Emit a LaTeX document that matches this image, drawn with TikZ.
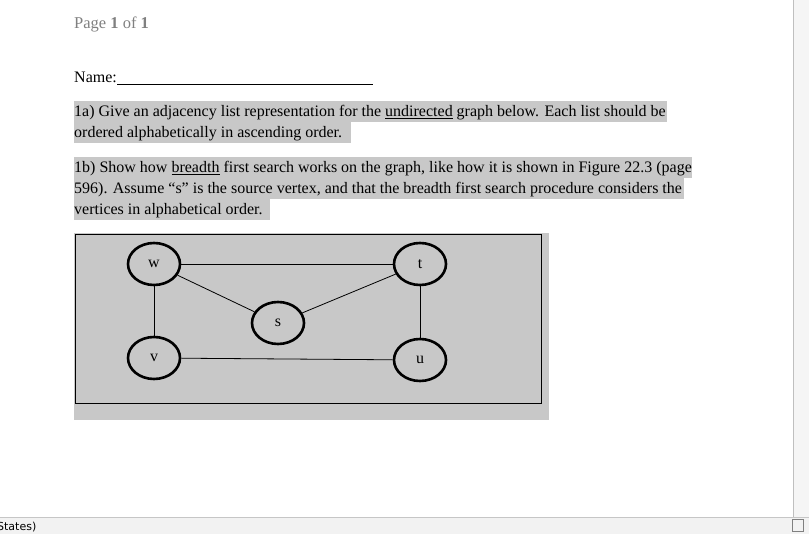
\documentclass[tikz,border=0pt]{standalone}
\usepackage{fontspec}
\usetikzlibrary{shapes.geometric}
\setmainfont{Liberation Serif}
\newfontfamily\uifont{DejaVu Sans}
\begin{document}
\begin{tikzpicture}[x=1pt,y=-1pt,
  txt/.style={anchor=base west,inner sep=0pt,font=\fontsize{16}{21}\selectfont},
  vtx/.style={ellipse,draw,line width=2.6pt,minimum width=52pt,minimum height=42pt,inner sep=0pt,font=\fontsize{16}{18}\selectfont},
  edge/.style={line width=0.8pt}]
\useasboundingbox (0,0) rectangle (809,534);
\fill[white] (0,0) rectangle (809,534);
% highlights
\definecolor{hl}{RGB}{200,200,200}
\fill[hl] (74,101) rectangle (667,122);
\fill[hl] (74,122) rectangle (351,143);
\fill[hl] (74,157) rectangle (692,178);
\fill[hl] (74,178) rectangle (684,199);
\fill[hl] (74,199) rectangle (270,220);
\fill[hl] (74,233) rectangle (549,420);
\draw[line width=0.8pt] (75,234) rectangle (541,403);
% texts
\node[txt,text=gray,font=\fontsize{16.5}{21}\selectfont] (pg) at (74,29) {Page \textbf{1} of \textbf{1}};
\node[txt] (nm) at (74,83) {Name:};
\draw[line width=0.8pt] (117,84) -- (373,84);
\node[txt] (l1) at (74,117) {1a) Give an adjacency list representation for the \underline{undirected} graph below. Each list should be};
\node[txt] (l2) at (74,138) {ordered alphabetically in ascending order.};
\node[txt] (l3) at (74,173) {1b) Show how \underline{breadth} first search works on the graph, like how it is shown in Figure 22.3 (page};
\node[txt] (l4) at (74,194) {596). Assume ``s'' is the source vertex, and that the breadth first search procedure considers the};
\node[txt] (l5) at (74,215) {vertices in alphabetical order.};
% graph
\node[vtx] (w) at (154,264) {w};
\node[vtx] (t) at (420,264) {t};
\node[vtx] (s) at (278,323) {s};
\node[vtx] (v) at (154,358) {v};
\node[vtx] (u) at (420,360) {u};
\draw[edge] (w) -- (t);
\draw[edge] (w) -- (s);
\draw[edge] (s) -- (t);
\draw[edge] (w) -- (v);
\draw[edge] (t) -- (u);
\draw[edge] (v) -- (u);
% window chrome
\fill[gray!8] (793,0) rectangle (809,517);
\draw[gray!50] (793,0) -- (793,517);
\fill[gray!10] (0,517) rectangle (809,534);
\draw[gray!45] (0,517) -- (809,517);
\node[anchor=base west,inner sep=0pt,font=\uifont\fontsize{11}{12}\selectfont] (st) at (-3,530) {States)};
\node[draw=gray,inner sep=0pt,minimum width=11pt,minimum height=12pt] (ic) at (798,525) {};
\end{tikzpicture}
\end{document}
